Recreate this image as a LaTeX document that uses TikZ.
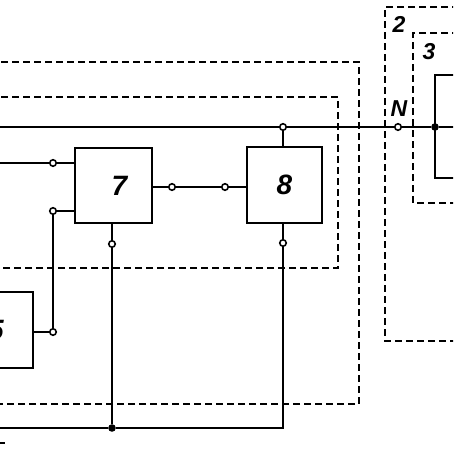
\documentclass[tikz,border=0pt]{standalone}
\usepackage{fontspec}
\setmainfont{Liberation Sans}
\begin{document}
\begin{tikzpicture}[x=1pt,y=-1pt,line width=2.4pt,
  blk/.style={draw,rectangle,inner sep=0pt,font=\bfseries\itshape\fontsize{28}{28}\selectfont},
  port/.style={draw,circle,fill=white,inner sep=0pt,minimum size=6.5pt,line width=1.6pt},
  jdot/.style={draw,circle,fill=black,inner sep=0pt,minimum size=5pt},
  frame/.style={draw,line width=2.2pt,dash pattern=on 7pt off 4pt},
  lbl/.style={font=\bfseries\itshape\fontsize{23}{23}\selectfont,inner sep=0pt}]
\useasboundingbox (0,0) rectangle (453,453);
\clip (0,0) rectangle (453,453);
% dashed frames
\draw[frame] (-10,62) -- (359,62) -- (359,404) -- (-10,404);
\draw[frame] (-10,97) -- (338,97) -- (338,268) -- (-10,268);
\draw[frame] (470,7) -- (385,7) -- (385,341) -- (470,341);
\draw[frame] (470,33) -- (413,33) -- (413,203) -- (470,203);
\node[lbl] (l2) at (399,24) {2};
\node[lbl] (l3) at (429,52) {3};
\node[lbl] (lN) at (399,109) {N};
% blocks
\node[blk,minimum width=77pt,minimum height=75pt] (b7) at (113.5,185.5) {\hspace{12pt}7};
\node[blk,minimum width=75pt,minimum height=76pt] (b8) at (284.5,185) {8};
\node[blk,minimum width=74pt,minimum height=76pt] (b5) at (-4,330) {5};
\node[draw,rectangle,minimum width=80pt,minimum height=103pt,inner sep=0pt] (bR) at (475,126.5) {};
% ports
\node[port] (c8t) at (283,127) {};
\node[port] (cN) at (398,127) {};
\node[jdot] (dR) at (435,127) {};
\node[port] (c7a) at (53,163) {};
\node[port] (c7b) at (53,211) {};
\node[port] (c5) at (53,332) {};
\node[port] (c7o) at (172,187) {};
\node[port] (c8i) at (225,187) {};
\node[port] (c7d) at (112,244) {};
\node[port] (c8d) at (283,243) {};
\node[jdot] (dB) at (112,428) {};
\coordinate (Lin) at (0,127);
\coordinate (Rout) at (460,127);
\coordinate (Ain) at (0,163);
\coordinate (Bin) at (0,428);
\coordinate (Bc) at (283,428);
\coordinate (s1) at (0,443);
\coordinate (s2) at (5,443);
% connectors
\draw (Lin) -- (c8t) -- (cN) -- (dR) -- (Rout);
\draw (c8t) -- (c8t |- b8.north);
\draw (Ain) -- (c7a) -- (c7a -| b7.west);
\draw (c7b) -- (c7b -| b7.west);
\draw (c7b) -- (c5);
\draw (c5) -- (c5 -| b5.east);
\draw (b7.east |- c7o) -- (c7o) -- (c8i) -- (c8i -| b8.west);
\draw (c7d |- b7.south) -- (c7d) -- (dB);
\draw (c8d |- b8.south) -- (c8d) -- (Bc) -- (dB) -- (Bin);
\draw (s1) -- (s2);
\end{tikzpicture}
\end{document}
